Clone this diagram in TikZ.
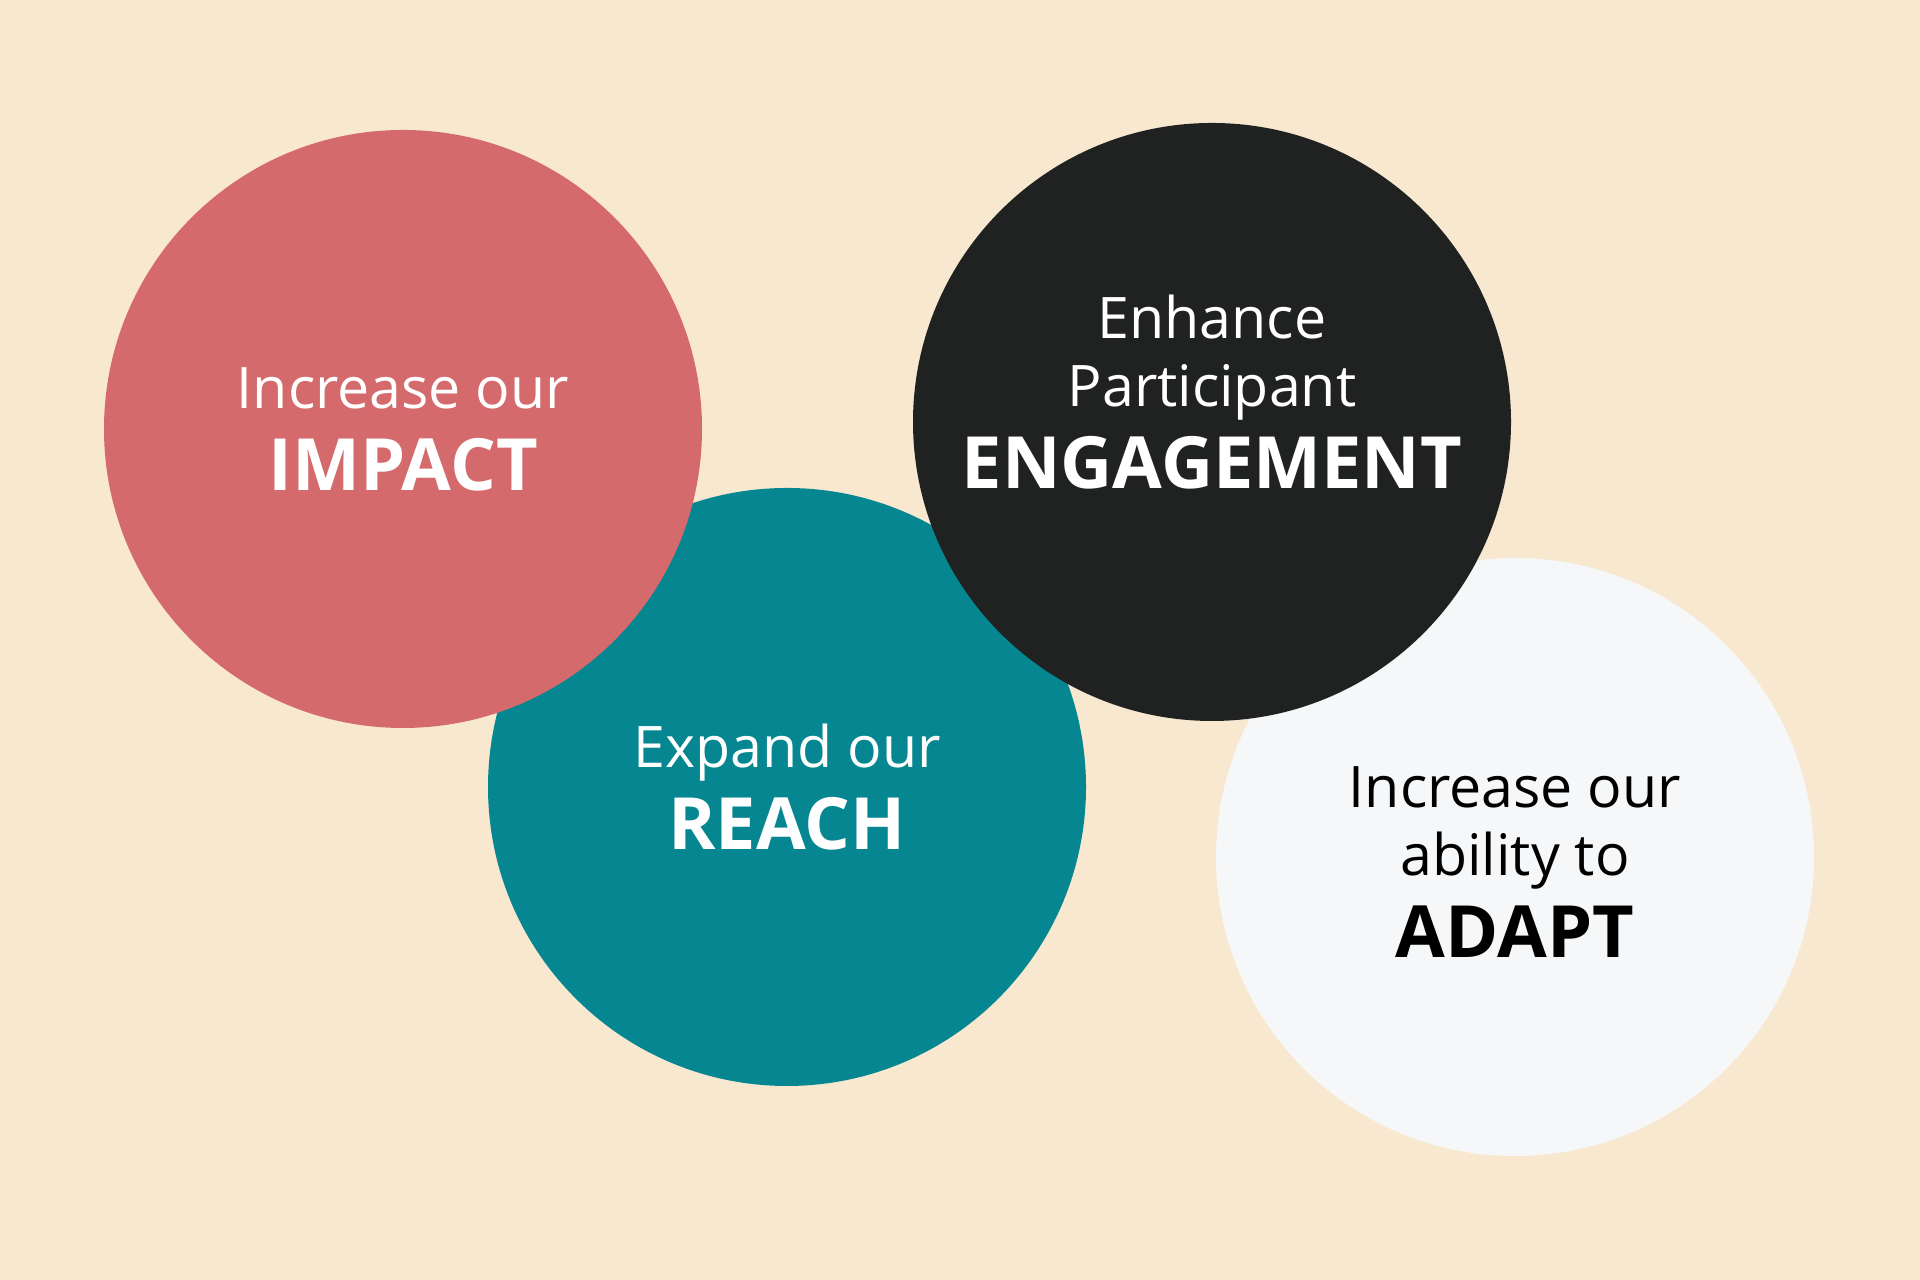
\documentclass[tikz,border=0pt]{standalone}
\usepackage{fontspec}
\setmainfont{Open Sans}
\usetikzlibrary{positioning}
\definecolor{bgsand}{HTML}{F8E8D0}
\definecolor{rosered}{HTML}{D46A6C}
\definecolor{deepteal}{HTML}{058690}
\definecolor{nearblack}{HTML}{202221}
\definecolor{offwhite}{HTML}{F6F7F8}
\newcommand{\goalword}[1]{{\fontsize{20.5}{21}\bfseries\selectfont #1}}

\begin{document}
\begin{tikzpicture}[
    goal/.style={circle, minimum size=5.98cm, inner sep=0pt},
    goaltext/.style={align=center, text=white, font=\fontsize{16.3}{19.5}\selectfont}
]
\fill[bgsand] (0,0) rectangle (19.2,12.8);
\useasboundingbox (0,0) rectangle (19.2,12.8);

% Circles
\node[goal, fill=deepteal] (reach) at (7.87,4.93) {};
\node[goal, fill=offwhite] (adapt) at (15.15,4.23) {};
\node[goal, fill=rosered] (impact) at (4.03,8.51) {};
\node[goal, fill=nearblack] (engage) at (12.12,8.58) {};

% Labels
\node[goaltext] (impactlbl) at (impact) {Increase our\\[3.8pt]\goalword{IMPACT}};
\node[goaltext] (reachlbl) at (reach) {Expand our\\[3.8pt]\goalword{REACH}};
\node[goaltext, yshift=0.3cm] (engagelbl) at (engage) {Enhance\\Participant\\[3.8pt]\goalword{ENGAGEMENT}};
\node[goaltext, text=black, yshift=-0.05cm] (adaptlbl) at (adapt) {Increase our\\ability to\\[3.8pt]\goalword{ADAPT}};

\end{tikzpicture}
\end{document}
